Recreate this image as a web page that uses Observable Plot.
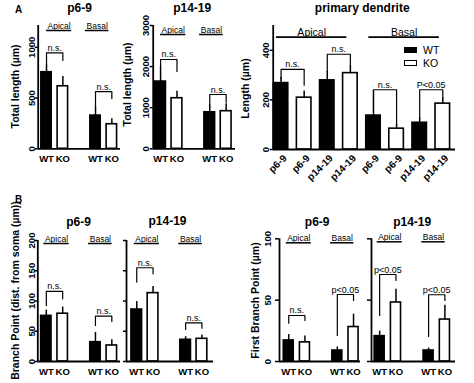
<!DOCTYPE html>
<html><head><meta charset="utf-8">
<script src="https://cdn.jsdelivr.net/npm/d3@7"></script>
<script src="https://cdn.jsdelivr.net/npm/@observablehq/plot@0.6"></script>
<style>
html,body{margin:0;padding:0;background:#fff}
#fig{position:relative;width:474px;height:383px;overflow:hidden;font-family:"Liberation Sans",Arial,Helvetica,sans-serif}
#fig svg{position:absolute;left:0;top:0}
</style></head><body><div id="fig"></div>
<script>
// ---------- data ----------
const genotypes = ["WT", "KO"];
const regions = ["Apical", "Basal"];
const agesPrimary = ["p6-9", "p6-9", "p14-19", "p14-19", "p6-9", "p6-9", "p14-19", "p14-19"];

// A: total dendritic length (µm); order WT-Apical, KO-Apical, WT-Basal, KO-Basal
const lenP69Mean = [755, 616, 328, 242];
const lenP69Sem = [75, 96, 88, 53];
const lenP1419Mean = [1637, 1231, 890, 915];
const lenP1419Sem = [348, 170, 205, 180];
// A: primary dendrite length (µm); WT/KO alternating, apical then basal
const primMean = [268, 209, 279, 308, 137, 84, 108, 185];
const primSem = [22, 27, 36, 29, 101, 17, 20, 24];
// B: branch point, distance from soma (µm)
const bpP69Mean = [75.5, 79, 32, 26.5];
const bpP69Sem = [9.5, 11, 16, 9.5];
const bpP1419Mean = [86, 113, 36, 37.5];
const bpP1419Sem = [13, 11, 5, 6.5];
// B: first branch point (µm)
const fbP69Mean = [17.2, 15.6, 9, 28.1];
const fbP69Sem = [4.7, 5.1, 2.8, 10.4];
const fbP1419Mean = [20.7, 48.1, 9, 34.2];
const fbP1419Sem = [4.1, 10.7, 1.9, 11.7];

// significance labels and bracket levels [bracket, left leg end, right leg end] (data units)
const lenP69Sig = ["n.s.", "n.s."];
const lenP69Brk = [[945, 837, 869], [564, 426, 495]];
const lenP1419Sig = ["n.s.", "n.s."];
const lenP1419Brk = [[2173, 1985, 1881], [1321, 1119, 1134]];
const primSig = ["n.s.", "n.s.", "n.s.", "P<0.05"];
const primBrk = [[323, 286, 259], [384, 315, 337], [241, 238, 101], [241, 128, 209]];
const bpP69Sig = ["n.s.", "n.s."];
const bpP69Brk = [[116, 92.6, 103.6], [75, 59.5, 66]];
const bpP1419Sig = ["n.s.", "n.s."];
const bpP1419Brk = [[155, 131, 145], [64, 53, 55]];
const fbP69Sig = ["n.s.", "p<0.05"];
const fbP69Brk = [[37.5, 31.2, 33.4], [54.6, 21.2, 49.7]];
const fbP1419Sig = ["p<0.05", "p<0.05"];
const fbP1419Brk = [[70.9, 37.5, 66], [54.4, 20.4, 49.7]];

const lenTicks = [0, 500, 1000];
const len2Ticks = [0, 1000, 2000, 3000];
const primTicks = [0, 200, 400];
const bpTicks = [0, 50, 100, 150, 200];
const fbTicks = [0, 50, 100];

// ---------- drawing ----------
const W = 474, H = 383;
const FONT = "Liberation Sans, Arial, Helvetica, sans-serif";
const fig = document.getElementById("fig");
const C = {textAnchor: "middle", lineAnchor: "middle"};

function panel(p) {
  const n = p.means.length;
  const per = n === 8 ? 4 : 2;
  const rows = p.means.map((m, i) => ({
    pos: n === 8 ? i : Math.floor(i / 2) * 3 + (i % 2),
    geno: genotypes[i % 2],
    region: regions[Math.floor(i / per)],
    tick: n === 8 ? agesPrimary[i] : genotypes[i % 2],
    mean: m,
    sem: p.sems[i]
  }));
  const br = p.brackets.map((b, j) => ({
    j, xL: rows[2 * j].pos, xR: rows[2 * j + 1].pos, y: b[0], yl: b[1], yr: b[2], label: p.sig[j]
  }));
  const pts = br.flatMap(b => [
    {j: b.j, x: b.xL, y: b.yl}, {j: b.j, x: b.xL, y: b.y},
    {j: b.j, x: b.xR, y: b.y}, {j: b.j, x: b.xR, y: b.yr}
  ]);
  const grp = regions.map((r, k) => {
    const ps = rows.filter(d => d.region === r).map(d => d.pos);
    const lo = d3.min(ps), hi = d3.max(ps);
    let x1, x2;
    if (n === 8) { x1 = lo - 0.2; x2 = hi - 0.15; }
    else { const c = (lo + hi) / 2 + p.groupShift[k]; x1 = c - p.groupHalf[k]; x2 = c + p.groupHalf[k]; }
    return {region: r, x1, x2, xc: (x1 + x2) / 2};
  });
  const ymax = p.ymax;
  const marks = [
    Plot.rectY(rows.filter(d => d.geno === "WT"), {x1: d => d.pos - p.bw / 2, x2: d => d.pos + p.bw / 2, y1: 0, y2: "mean", fill: "#000", stroke: "#000", strokeWidth: 1.5}),
    Plot.rectY(rows.filter(d => d.geno === "KO"), {x1: d => d.pos - p.bw / 2, x2: d => d.pos + p.bw / 2, y1: 0, y2: "mean", fill: "#fff", stroke: "#000", strokeWidth: 1.6}),
    Plot.ruleX(rows, {x: "pos", y1: "mean", y2: d => d.mean + d.sem, stroke: "#000", strokeWidth: 1.5}),
    Plot.ruleX([p.xlo], {stroke: "#000", strokeWidth: 1.8}),
    Plot.ruleY([0], {stroke: "#000", strokeWidth: 1.8}),
    Plot.axisY({ticks: p.yTicks, tickSize: p.tickSize || 3, tickFormat: () => "", label: null, strokeWidth: 1.5}),
    p.tickLabels ? Plot.text(p.yTicks, {...C, y: d => d, text: d => String(d), frameAnchor: "left", dx: p.tickDx, rotate: -90, fontWeight: "bold", fontSize: 9.5}) : null,
    n === 8
      ? Plot.text(rows, {x: "pos", text: "tick", frameAnchor: "bottom", rotate: -45, textAnchor: "end", lineAnchor: "middle", dx: 4, dy: 7, fontWeight: "bold", fontSize: 10})
      : Plot.text(rows, {x: "pos", text: "tick", frameAnchor: "bottom", textAnchor: "middle", lineAnchor: "top", dy: 6.5, fontWeight: "bold", fontSize: 9.5}),
    Plot.line(pts, {x: "x", y: "y", z: "j", stroke: "#000", strokeWidth: 1.2}),
    Plot.text(br, {x: d => (d.xL + d.xR) / 2, y: "y", text: "label", textAnchor: "middle", lineAnchor: "bottom", dy: -2, fontSize: 9}),
    Plot.ruleY(grp, {x1: "x1", x2: "x2", y: () => ymax, dy: p.groupDy, stroke: "#000", strokeWidth: n === 8 ? 1.8 : 1.5}),
    Plot.text(grp, {x: "xc", y: () => ymax, dy: p.groupDy - 1.5, text: "region", textAnchor: "middle", lineAnchor: "bottom", fontSize: p.groupFont}),
    Plot.text([p.title], {...C, frameAnchor: "top-left", dx: p.titleX - p.left, dy: p.titleY - p.top, fontWeight: "bold", fontSize: 12}),
    p.yLabel ? Plot.text([p.yLabel], {...C, frameAnchor: "top-left", dx: p.yLabelX - p.left, dy: p.yLabelY - p.top, rotate: -90, fontWeight: "bold", fontSize: 10.5}) : null,
    p.letter ? Plot.text([p.letter], {...C, frameAnchor: "top-left", dx: p.letterX - p.left, dy: p.letterY - p.top, fontWeight: "bold", fontSize: 10}) : null
  ].filter(Boolean);
  const svg = Plot.plot({
    width: W, height: H,
    marginLeft: p.left, marginRight: W - p.right, marginTop: p.top, marginBottom: H - p.bottom,
    x: {type: "linear", domain: [p.xlo, p.xhi], axis: null},
    y: {type: "linear", domain: [0, ymax], label: null},
    style: {background: "transparent", fontFamily: FONT, overflow: "visible", color: "#000"},
    marks
  });
  fig.appendChild(svg);
}

const shiftA = [0.27, -0.4], shiftB = [0.12, -0.2], half = [0.77, 0.72];

panel({means: lenP69Mean, sems: lenP69Sem, sig: lenP69Sig, brackets: lenP69Brk,
  left: 37.7, right: 120, top: 25, bottom: 148.3, ymax: 1215, xlo: -0.51, xhi: 4.53, bw: 0.64,
  yTicks: lenTicks, tickLabels: true, tickDx: -6.2,
  yLabel: "Total length (µm)", yLabelX: 15, yLabelY: 86,
  title: "p6-9", titleX: 79, titleY: 8, groupDy: 5, groupShift: shiftA, groupHalf: half, groupFont: 8.5,
  letter: "A", letterX: 18, letterY: 9});

panel({means: lenP1419Mean, sems: lenP1419Sem, sig: lenP1419Sig, brackets: lenP1419Brk,
  left: 152.7, right: 235, top: 25, bottom: 148.3, ymax: 3000, xlo: -0.45, xhi: 4.57, bw: 0.66,
  yTicks: len2Ticks, tickLabels: true, tickDx: -7.5,
  yLabel: "Total length (µm)", yLabelX: 127, yLabelY: 84,
  title: "p14-19", titleX: 191.7, titleY: 8, groupDy: 9, groupShift: shiftA, groupHalf: half, groupFont: 8.5});

panel({means: primMean, sems: primSem, sig: primSig, brackets: primBrk,
  left: 272.7, right: 455, top: 25, bottom: 149, ymax: 500, xlo: -0.34, xhi: 7.55, bw: 0.63,
  yTicks: primTicks, tickLabels: true, tickDx: -7,
  yLabel: "Length (µm)", yLabelX: 245, yLabelY: 88,
  title: "primary dendrite", titleX: 361.7, titleY: 7.5, groupDy: 11.7, groupFont: 10.5});

panel({means: bpP69Mean, sems: bpP69Sem, sig: bpP69Sig, brackets: bpP69Brk,
  left: 37.3, right: 120, top: 240, bottom: 361, ymax: 200, xlo: -0.52, xhi: 4.53, bw: 0.64,
  yTicks: bpTicks, tickLabels: true, tickDx: -5.6,
  yLabel: "Branch Point (dist. from soma (µm))", yLabelX: 15, yLabelY: 290,
  title: "p6-9", titleX: 78, titleY: 221.7, groupDy: 3, groupShift: shiftB, groupHalf: half, groupFont: 8.5,
  letter: "B", letterX: 18, letterY: 199});

panel({means: bpP1419Mean, sems: bpP1419Sem, sig: bpP1419Sig, brackets: bpP1419Brk,
  left: 126, right: 213, top: 240, bottom: 361, ymax: 200, xlo: -0.63, xhi: 4.71, bw: 0.66,
  yTicks: bpTicks, tickLabels: false,
  title: "p14-19", titleX: 167, titleY: 221, groupDy: 3, groupShift: shiftB, groupHalf: half, groupFont: 8.5});

panel({means: fbP69Mean, sems: fbP69Sem, sig: fbP69Sig, brackets: fbP69Brk,
  left: 279, right: 360, top: 238.3, bottom: 361, ymax: 100, xlo: -0.57, xhi: 4.43, bw: 0.62,
  yTicks: fbTicks, tickLabels: true, tickDx: -12, tickSize: 4,
  yLabel: "First Branch Point (µm)", yLabelX: 255, yLabelY: 300,
  title: "p6-9", titleX: 316.7, titleY: 221.7, groupDy: 4, groupShift: shiftB, groupHalf: half, groupFont: 8.5});

panel({means: fbP1419Mean, sems: fbP1419Sem, sig: fbP1419Sig, brackets: fbP1419Brk,
  left: 371, right: 455, top: 238.3, bottom: 361, ymax: 100, xlo: -0.5, xhi: 4.65, bw: 0.62,
  yTicks: fbTicks, tickLabels: false, tickSize: 4,
  title: "p14-19", titleX: 411.7, titleY: 221.7, groupDy: 3, groupShift: shiftB, groupHalf: half, groupFont: 8.5});

// legend for the primary dendrite panel
const legend = document.createElement("div");
legend.style.cssText = "position:absolute;left:404px;top:43.5px;font-size:10.5px;line-height:13.3px;color:#000";
genotypes.forEach(g => {
  const row = document.createElement("div");
  row.style.cssText = "display:flex;align-items:center;height:13.3px";
  const sw = document.createElement("span");
  sw.style.cssText = "display:inline-block;box-sizing:border-box;width:13px;height:6px;border:1.5px solid #000;margin-right:6px;background:" + (g === "WT" ? "#000" : "#fff");
  const t = document.createElement("span");
  t.textContent = g;
  row.appendChild(sw); row.appendChild(t);
  legend.appendChild(row);
});
fig.appendChild(legend);
</script></body></html>
